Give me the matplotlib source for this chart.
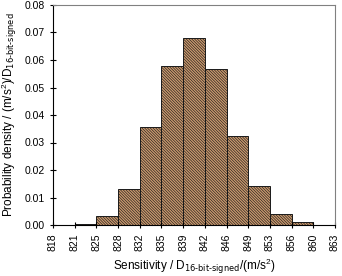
import numpy as np
import matplotlib
matplotlib.use("Agg")
import matplotlib.pyplot as plt

plt.rcParams['font.family'] = ['Liberation Sans', 'DejaVu Sans']
plt.rcParams['mathtext.default'] = 'regular'
plt.rcParams['hatch.linewidth'] = 0.45
plt.rcParams['hatch.color'] = '#3a2a1c'

edges = ['818', '821', '825', '828', '832', '835', '839', '842',
         '846', '849', '853', '856', '860', '863']
density = [0.0, 0.0005, 0.0033, 0.0132, 0.0357, 0.0580, 0.0680,
           0.0567, 0.0325, 0.0143, 0.0041, 0.0010, 0.0]

fig = plt.figure(figsize=(3.42, 2.76), dpi=100)
ax = fig.add_axes([53 / 342, 1 - 225 / 276, 282 / 342, 220 / 276])

pos = np.arange(len(density))
ax.bar(pos, density, width=1.0, align='edge', color='#cc9a6e',
       edgecolor='#1a1a1a', linewidth=0.7, hatch='\\' * 12)

ax.set_xlim(0, len(edges) - 1)
ax.set_ylim(0, 0.08)
ax.set_xticks(np.arange(len(edges)))
ax.set_xticklabels(edges, rotation=90)
ax.set_yticks(np.arange(0, 0.081, 0.01))
ax.set_yticklabels(['%.2f' % v for v in np.arange(0, 0.081, 0.01)])
ax.tick_params(direction='inout', length=5, width=0.8, labelsize=7.5,
               colors='black')

for s in ['top', 'right']:
    ax.spines[s].set_color('#808080')
for s in ['left', 'bottom']:
    ax.spines[s].set_color('black')

sub = '$_{\\text{16-bit-signed}}$'
ax.set_xlabel('Sensitivity / D' + sub + '/(m/s$^2$)', fontsize=8.5)
ax.set_ylabel('Probability density / (m/s$^2$)/D' + sub, fontsize=8.5)

fig.savefig('out.png', dpi=100)
